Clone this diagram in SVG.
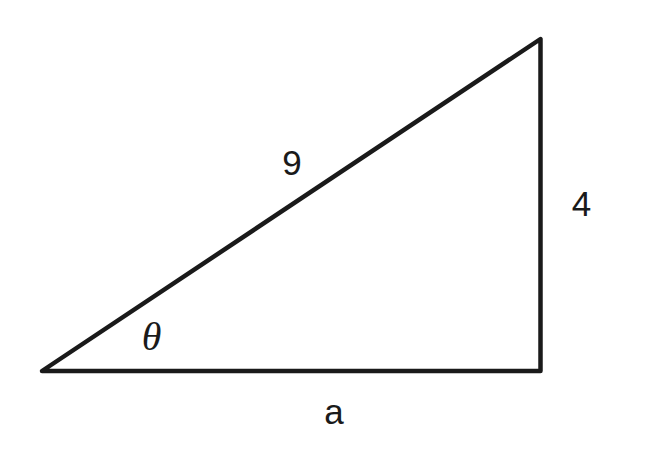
<svg xmlns="http://www.w3.org/2000/svg" width="648" height="472" viewBox="0 0 648 472">
<style>
.edge{fill:none;stroke:#1a1a1a;stroke-width:4.5;stroke-linecap:round;stroke-linejoin:round}
.lbl{font-family:"Liberation Sans",Arial,sans-serif;font-size:35px;fill:#1a1a1a;text-anchor:middle}
.ang{font-family:"Liberation Serif","Times New Roman",serif;font-style:italic;font-size:40px;fill:#1a1a1a;text-anchor:middle}
</style>
<rect width="648" height="472" fill="#fff"/>
<g id="connectors">
<polygon class="edge" points="42,371 540.5,39 540.5,371"/>
</g>
<g id="label-9"><text class="lbl" x="292" y="175">9</text></g>
<g id="label-4"><text class="lbl" x="581.5" y="216">4</text></g>
<g id="label-a"><text class="lbl" x="334" y="424">a</text></g>
<g id="label-theta"><text class="ang" x="151.5" y="350">θ</text></g>
</svg>
